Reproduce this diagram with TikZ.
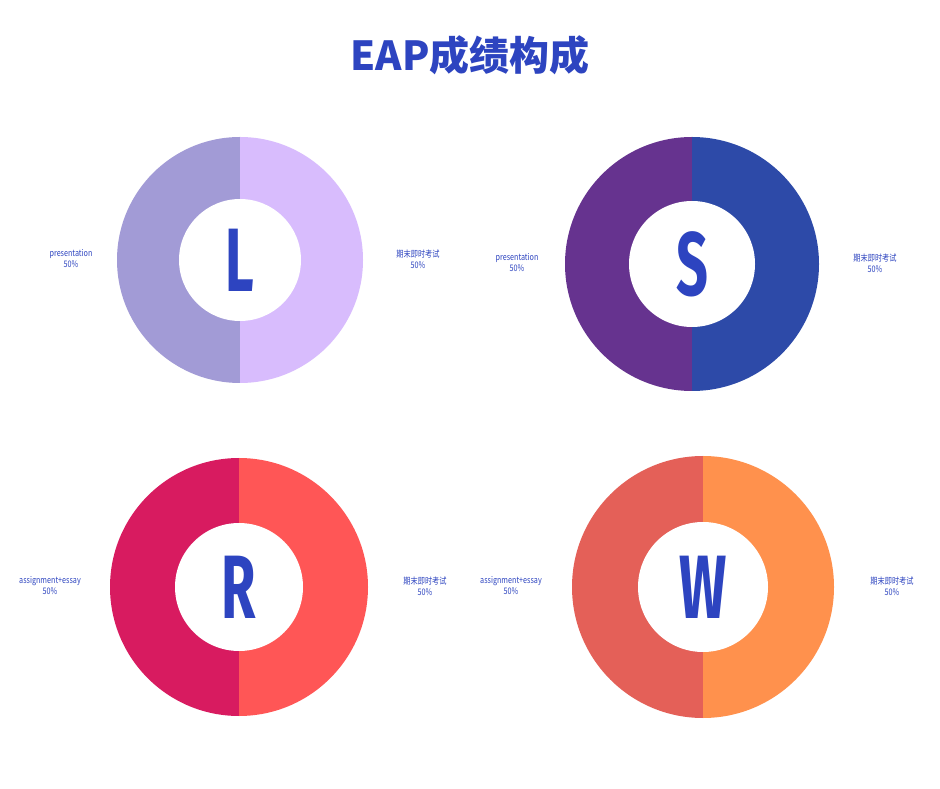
\documentclass[tikz,border=0pt]{standalone}
\usepackage{fontspec}
\setmainfont{Fira Sans}
\newfontfamily\cjk{Noto Sans CJK SC}
\definecolor{tb}{HTML}{2D44C0}
\definecolor{la}{HTML}{A29BD6}\definecolor{lb}{HTML}{D8BCFD}
\definecolor{sa}{HTML}{66338F}\definecolor{sb}{HTML}{2D4AA8}
\definecolor{ra}{HTML}{D81B60}\definecolor{rb}{HTML}{FF5656}
\definecolor{wa}{HTML}{E46058}\definecolor{wb}{HTML}{FF914D}
\begin{document}
\begin{tikzpicture}[x=1pt,y=1pt,
  lab/.style={text=tb,align=center,font=\fontsize{9}{11}\selectfont\cjk,inner sep=0},
  big/.style={text=tb,font=\fontsize{90}{90}\selectfont\bfseries,inner sep=0}]
\useasboundingbox (0,0) rectangle (940,788);
\fill[white] (0,0) rectangle (940,788);
\node[text=tb,font=\fontsize{40}{40}\selectfont\cjk\bfseries] (t) at (470,733) {EAP成绩构成};
\newcommand\donut[7]{%
  \fill[#4] (#1,#2) -- ++(90:#3) arc[start angle=90,end angle=270,radius=#3] -- cycle;
  \fill[#5] (#1,#2) -- ++(90:#3) arc[start angle=90,end angle=-90,radius=#3] -- cycle;
  \fill[white] (#1,#2) circle[radius=#6];
  \node[big] (#7) at (#1,#2) {\scalebox{0.62}[1]{#7}};}
\donut{240}{528}{123}{la}{lb}{61}{L}
\donut{692}{524}{127}{sa}{sb}{63}{S}
\donut{239}{201}{129}{ra}{rb}{64}{R}
\donut{703}{201}{131}{wa}{wb}{65}{W}
\node[lab] (l1) at (71,529) {\scalebox{0.8}[1]{presentation}\\\scalebox{0.8}[1]{50\%}};
\node[lab] (l2) at (418,529) {\scalebox{0.8}[1]{期末即时考试}\\\scalebox{0.8}[1]{50\%}};
\node[lab] (s1) at (517,525) {\scalebox{0.8}[1]{presentation}\\\scalebox{0.8}[1]{50\%}};
\node[lab] (s2) at (875,525) {\scalebox{0.8}[1]{期末即时考试}\\\scalebox{0.8}[1]{50\%}};
\node[lab] (r1) at (50,202) {\scalebox{0.8}[1]{assignment+essay}\\\scalebox{0.8}[1]{50\%}};
\node[lab] (r2) at (425,202) {\scalebox{0.8}[1]{期末即时考试}\\\scalebox{0.8}[1]{50\%}};
\node[lab] (w1) at (511,202) {\scalebox{0.8}[1]{assignment+essay}\\\scalebox{0.8}[1]{50\%}};
\node[lab] (w2) at (892,202) {\scalebox{0.8}[1]{期末即时考试}\\\scalebox{0.8}[1]{50\%}};
\end{tikzpicture}
\end{document}
